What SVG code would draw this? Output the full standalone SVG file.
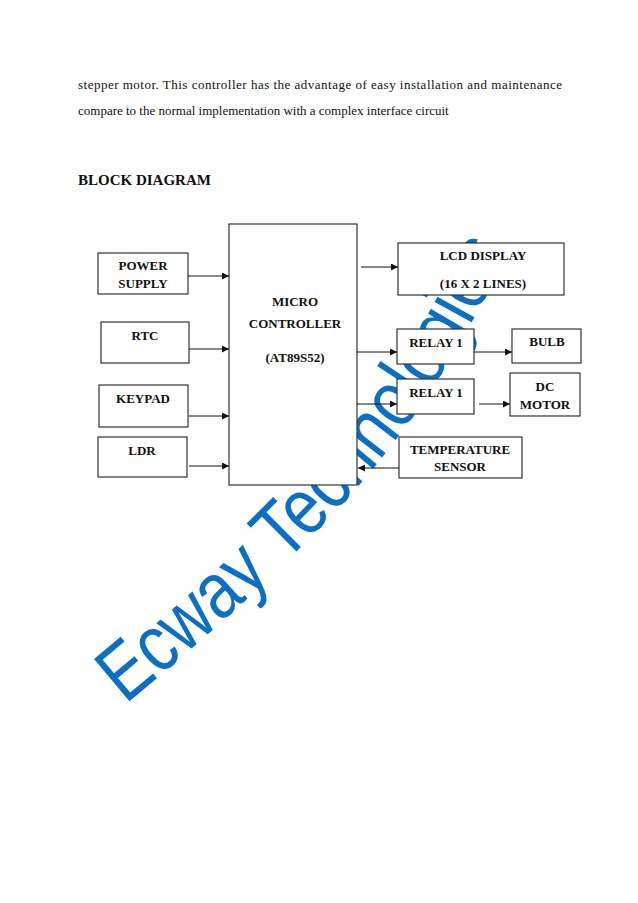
<svg xmlns="http://www.w3.org/2000/svg" width="638" height="903" viewBox="0 0 638 903">
<defs>
<style>
.b{fill:#fff;stroke:#333;stroke-width:1.2}
.t{font-family:"Liberation Serif",serif;font-weight:bold;font-size:13px;fill:#111;text-anchor:middle}
.p{font-family:"Liberation Serif",serif;font-size:13px;fill:#111}
.c line{stroke:#111;stroke-width:1;marker-end:url(#a)}
</style>
<marker id="a" viewBox="0 0 8 8" refX="8" refY="4" markerWidth="7" markerHeight="7" orient="auto" markerUnits="userSpaceOnUse"><path d="M0,0L8,4L0,8z" fill="#111"/></marker>
<path id="wm" d="M125 705 Q 300 560 380 460 T 520 225" fill="none"/>
</defs>
<rect width="638" height="903" fill="#fff"/>
<text style="font-family:'Liberation Sans Narrow','Liberation Sans',sans-serif;font-size:80px;fill:#0b6fc4"><textPath href="#wm" textLength="600" lengthAdjust="spacingAndGlyphs">Ecway Technologies</textPath></text>
<text class="p" x="78" y="89" textLength="484" lengthAdjust="spacing">stepper motor. This controller has the advantage of easy installation and maintenance</text>
<text class="p" x="78" y="115">compare to the normal implementation with a complex interface circuit</text>
<text x="78" y="185" style="font-family:'Liberation Serif',serif;font-weight:bold;font-size:15px;fill:#111">BLOCK DIAGRAM</text>
<g id="mc"><rect class="b" x="229" y="224" width="128" height="261"/><text class="t" x="295" y="306">MICRO</text><text class="t" x="295" y="328">CONTROLLER</text><text class="t" x="295" y="362">(AT89S52)</text></g>
<g id="power"><rect class="b" x="98" y="253" width="90" height="41"/><text class="t" x="143" y="270">POWER</text><text class="t" x="143" y="288">SUPPLY</text></g>
<g id="rtc"><rect class="b" x="101" y="322" width="88" height="41"/><text class="t" x="145" y="340">RTC</text></g>
<g id="keypad"><rect class="b" x="99" y="385" width="89" height="42"/><text class="t" x="143" y="403">KEYPAD</text></g>
<g id="ldr"><rect class="b" x="98" y="437" width="89" height="40"/><text class="t" x="142" y="455">LDR</text></g>
<g id="lcd"><rect class="b" x="398" y="243" width="166" height="52"/><text class="t" x="483" y="260">LCD DISPLAY</text><text class="t" x="483" y="288">(16 X 2 LINES)</text></g>
<g id="relay1a"><rect class="b" x="397" y="329" width="77" height="35"/><text class="t" x="436" y="347">RELAY 1</text></g>
<g id="bulb"><rect class="b" x="512" y="329" width="69" height="34"/><text class="t" x="547" y="346">BULB</text></g>
<g id="relay1b"><rect class="b" x="397" y="379" width="77" height="35"/><text class="t" x="436" y="397">RELAY 1</text></g>
<g id="dcmotor"><rect class="b" x="510" y="373" width="70" height="43"/><text class="t" x="545" y="391">DC</text><text class="t" x="545" y="409">MOTOR</text></g>
<g id="temp"><rect class="b" x="399" y="437" width="123" height="41"/><text class="t" x="460" y="454">TEMPERATURE</text><text class="t" x="460" y="471">SENSOR</text></g>
<g class="c">
<line x1="188" y1="276" x2="229" y2="276"/>
<line x1="189" y1="349" x2="229" y2="349"/>
<line x1="189" y1="416" x2="229" y2="416"/>
<line x1="189" y1="466" x2="229" y2="466"/>
<line x1="361" y1="267" x2="398" y2="267"/>
<line x1="357" y1="352" x2="397" y2="352"/>
<line x1="357" y1="404" x2="397" y2="404"/>
<line x1="474" y1="352" x2="512" y2="352"/>
<line x1="479" y1="404" x2="510" y2="404"/>
<line x1="399" y1="468" x2="358" y2="468"/>
</g>
</svg>
